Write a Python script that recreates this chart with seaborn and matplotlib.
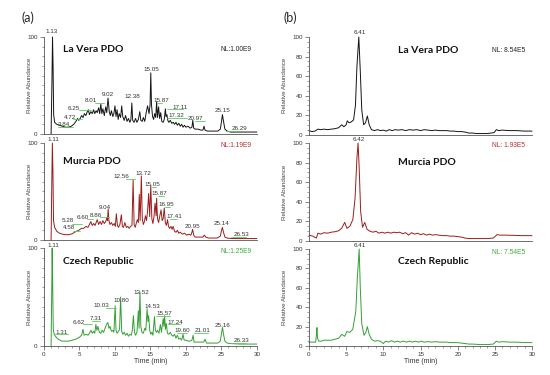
import matplotlib
matplotlib.use("Agg")
import matplotlib.pyplot as plt
import seaborn as sns
import pandas as pd
from matplotlib.ticker import MultipleLocator

# ---------------- data (time in min, relative abundance in %) ----------------
lavera_full = [(1.0,0),(1.12,55),(1.2,100),(1.28,70),(1.36,20),(1.5,12),(1.8,10),(2.2,9),(2.6,8),(3.0,7),(3.4,7),(3.84,8),
    (4.2,10),(4.5,13),(4.72,16),(4.9,14),(5.1,16),(5.3,19),(5.5,17),(5.7,21),(5.9,19),(6.05,22),(6.25,25),(6.4,20),
    (6.6,23),(6.8,21),(7.0,25),(7.15,21),(7.35,24),(7.5,22),(7.7,27),(7.85,21),(8.01,31),(8.15,21),(8.3,26),(8.5,19),
    (8.7,28),(8.85,22),(9.02,37),(9.2,23),(9.35,19),(9.5,24),(9.7,18),(9.85,21),(10.0,29),(10.15,18),(10.3,25),(10.45,15),
    (10.6,21),(10.8,17),(10.95,29),(11.1,18),(11.3,14),(11.5,19),(11.7,13),(11.9,16),(12.1,12),(12.25,15),(12.38,32),
    (12.5,14),(12.7,12),(12.9,16),(13.1,12),(13.3,15),(13.5,23),(13.65,14),(13.85,13),(14.0,17),(14.2,13),(14.4,22),
    (14.6,29),(14.8,21),(14.95,30),(15.05,63),(15.15,30),(15.3,18),(15.45,15),(15.6,21),(15.75,17),(15.87,33),(16.0,17),
    (16.15,28),(16.3,16),(16.45,22),(16.6,13),(16.8,12),(16.95,15),(17.11,26),(17.2,18),(17.32,20),(17.45,14),(17.6,12),
    (17.8,14),(18.0,11),(18.2,12),(18.4,10),(18.6,12),(18.8,9),(19.0,11),(19.2,8),(19.4,10),(19.6,7),(19.8,9),(20.0,7),
    (20.3,8),(20.6,6),(20.85,7),(20.97,14),(21.1,6),(21.3,5),(21.7,5),(22.1,4),(22.4,4),(22.55,8),(22.7,4),(23.0,3),
    (23.5,3),(24.0,3),(24.5,3),(24.85,5),(25.0,12),(25.15,20),(25.3,13),(25.5,5),(25.8,3),(26.29,2),(27.0,2),(28.0,2),
    (29.0,2),(30.0,2)]

murcia_full = [(1.0,0),(1.1,60),(1.18,100),(1.26,70),(1.34,20),(1.5,13),(1.8,9),(2.2,7),(2.6,6),(3.0,5.5),(3.5,5.5),
    (4.0,6.5),(4.3,8),(4.58,9),(4.9,10),(5.28,12),(5.6,12),(5.9,14),(6.2,13),(6.4,16),(6.6,19),(6.8,15),(7.0,17),(7.2,15),
    (7.5,21),(7.7,16),(7.9,19),(8.1,16),(8.3,20),(8.5,17),(8.7,19),(8.86,23),(8.95,20),(9.04,32),(9.15,20),(9.3,16),
    (9.5,18),(9.7,15),(9.9,17),(10.05,14),(10.2,27),(10.35,15),(10.5,13),(10.7,16),(10.9,26),(11.05,14),(11.2,13),
    (11.4,18),(11.6,13),(11.8,14),(12.0,12),(12.2,14),(12.4,15),(12.56,62),(12.7,16),(12.85,13),(13.0,17),(13.15,21),
    (13.3,18),(13.43,47),(13.55,20),(13.72,66),(13.85,22),(14.0,16),(14.15,19),(14.3,25),(14.45,20),(14.6,30),(14.75,48),
    (14.9,24),(15.05,56),(15.2,22),(15.35,17),(15.5,24),(15.65,38),(15.8,25),(15.87,43),(16.0,22),(16.15,18),(16.3,24),
    (16.5,31),(16.65,20),(16.8,22),(16.95,33),(17.1,18),(17.25,15),(17.41,21),(17.55,14),(17.7,12),(17.9,14),(18.05,11),
    (18.2,14),(18.4,9),(18.6,8),(18.8,10),(19.0,7),(19.2,8),(19.5,6),(19.8,7),(20.1,5),(20.4,6),(20.7,5),(20.85,8),
    (20.95,11),(21.1,5),(21.3,3),(21.7,3),(22.1,3),(22.4,3),(22.6,5),(22.8,3),(23.2,2),(23.8,2),(24.4,2),(24.85,4),
    (25.0,9),(25.14,13),(25.3,8),(25.5,3),(25.8,2),(26.53,1.5),(27.5,1.5),(28.5,1.5),(30.0,1.5)]

czech_full = [(1.0,0),(1.1,63),(1.15,100),(1.22,65),(1.3,18),(1.4,13),(1.6,10),(2.0,7),(2.5,5),(3.0,5),(3.5,5),(4.0,6),
    (4.5,7),(5.0,9),(5.3,11),(5.5,17),(5.65,11),(5.9,12),(6.2,11),(6.4,13),(6.62,16),(6.8,13),(7.0,15),(7.15,13),
    (7.31,22),(7.45,16),(7.6,20),(7.8,14),(8.0,13),(8.2,16),(8.4,14),(8.6,18),(8.8,22),(9.0,24),(9.15,18),(9.3,20),
    (9.5,15),(9.7,16),(9.85,14),(10.03,41),(10.15,16),(10.3,13),(10.5,15),(10.65,17),(10.8,50),(10.95,15),(11.1,12),
    (11.3,14),(11.5,11),(11.7,13),(11.9,10),(12.1,12),(12.3,11),(12.45,16),(12.6,31),(12.75,14),(12.9,11),(13.1,14),
    (13.3,36),(13.4,18),(13.52,55),(13.65,20),(13.8,14),(14.0,13),(14.2,18),(14.35,16),(14.53,38),(14.65,25),(14.75,31),
    (14.9,16),(15.05,12),(15.2,14),(15.35,11),(15.57,30),(15.7,16),(15.85,14),(16.0,16),(16.2,13),(16.4,22),(16.55,14),
    (16.8,28),(16.9,20),(17.0,31),(17.12,17),(17.24,23),(17.4,13),(17.6,12),(17.8,14),(18.0,11),(18.2,10),(18.4,12),
    (18.6,8),(18.8,11),(19.0,7),(19.2,8),(19.4,6),(19.6,12),(19.75,6),(20.0,6),(20.3,5),(20.6,5),(20.85,6),(21.01,11),
    (21.15,4),(21.4,4),(21.8,4),(22.2,4),(22.5,4),(22.7,7),(22.9,3),(23.3,3),(24.0,3),(24.5,3),(24.85,5),(25.0,12),
    (25.16,19),(25.3,12),(25.5,5),(25.8,3),(26.33,2.5),(27.5,2),(28.5,2),(30.0,2)]

lavera_sic = [(0.0,4),(0.4,3),(0.8,3.5),(1.2,5.5),(1.6,5),(2.0,5.5),(2.5,5),(3.0,5.5),(3.5,6),(4.0,7),(4.4,10),(4.7,8),
    (5.0,10),(5.15,14),(5.4,12),(5.7,13),(6.0,15),(6.25,30),(6.45,70),(6.7,100),(6.9,65),(7.1,25),(7.35,10),(7.6,12),
    (7.85,19),(8.1,10),(8.4,5),(8.8,4),(9.2,5),(9.6,4),(10.0,4.5),(10.4,3.5),(10.8,5),(11.2,4),(11.6,5),(12.0,4.5),
    (12.5,5),(13.0,4),(13.5,5),(14.0,4.5),(14.5,5),(15.0,4),(15.5,5),(16.0,4.5),(16.5,4),(17.0,4.5),(17.5,4),(18.0,4),
    (18.5,4),(19.0,3.5),(19.5,3.5),(20.0,3),(20.5,3),(21.0,2.5),(21.5,1.5),(22.0,1.5),(22.5,1),(23.0,1),(23.5,1),
    (24.0,1),(24.5,1.5),(24.9,2),(25.2,5),(25.5,4),(26.0,4.5),(27.0,4),(28.0,4),(29.0,3.5),(30.0,3.5)]

murcia_sic = [(0.0,6),(0.5,5),(1.0,3),(1.2,8),(1.6,7),(2.0,8.5),(2.5,8),(3.0,9),(3.5,9.5),(4.0,10.5),(4.4,13),(4.8,19),
    (5.1,13),(5.5,15),(5.9,22),(6.2,44),(6.45,85),(6.6,100),(6.75,75),(6.95,30),(7.2,14),(7.5,19),(7.8,12),(8.2,10),
    (8.6,9),(9.0,10),(9.4,8),(9.8,9),(10.2,8),(10.6,9),(11.0,8),(11.4,9),(11.8,8.5),(12.2,9),(12.6,7.5),(13.0,8.5),
    (13.4,6),(13.8,8.5),(14.2,7),(14.6,8),(15.0,6.5),(15.4,7.5),(15.8,6),(16.2,7),(16.6,6),(17.0,6.5),(17.5,6),(18.0,5.5),
    (18.5,5.5),(19.0,5),(19.5,5),(20.0,4.5),(20.5,4),(21.0,3),(21.5,2.5),(22.0,2.5),(23.0,2.5),(24.0,2.5),(24.8,3),
    (25.3,6.5),(25.7,6),(26.5,6),(27.5,5.8),(28.5,5.5),(30.0,5.5)]

czech_sic = [(0.0,4),(0.5,4),(0.9,4),(1.0,12),(1.07,19),(1.15,8),(1.3,5),(1.7,5),(2.0,6),(2.5,6),(3.0,6),(3.5,7),(4.0,8),
    (4.4,12),(4.8,10),(5.1,15),(5.5,14),(5.9,17.5),(6.3,36),(6.5,70),(6.75,100),(6.9,60),(7.1,23),(7.4,11),(7.65,14),
    (7.85,20),(8.1,12),(8.4,7),(8.8,5),(9.2,5.5),(9.6,5),(10.0,2.5),(10.3,5),(10.7,4),(11.1,5.5),(11.5,4),(11.9,5),
    (12.3,4),(12.7,5),(13.1,4),(13.5,5),(13.9,4),(14.3,5),(14.7,4),(15.1,5),(15.5,4),(16.0,4.5),(16.5,4),(17.0,4.5),
    (17.5,4),(18.0,4),(18.5,4),(19.0,3.5),(19.5,3.5),(20.0,3.5),(20.5,3),(21.0,2.5),(21.5,2),(22.0,2),(23.0,1.5),
    (24.0,1.5),(24.8,2),(25.2,5),(25.5,4),(26.0,4.5),(27.0,4),(28.0,4),(29.0,3.5),(30.0,3.5)]

samples = ["La Vera PDO", "Murcia PDO", "Czech Republic"]
nl_full = ["NL:1.00E9", "NL:1.19E9", "NL:1.25E9"]
nl_sic = ["NL: 8.54E5", "NL: 1.93E5", "NL: 7.54E5"]

# peak labels: (text, x, y) and leader lines (x0, x1, y)
peaks_full = [
    [("1.13",1.1,105.5),("3.84",2.85,9.3),("4.72",3.65,17.2),("6.25",4.2,26.5),("8.01",6.6,34.4),("9.02",9.06,41.2),
     ("12.38",12.5,38.5),("15.05",15.07,66.7),("15.87",16.57,34.4),("17.11",19.25,27.5),("17.32",18.7,18.6),
     ("20.97",21.4,15.8),("25.15",25.2,24),("26.29",27.5,5.8)],
    [("1.11",1.3,104),("4.58",3.57,12.4),("5.28",3.3,19.9),("6.60",5.4,23.4),("8.86",7.3,25.4),("9.04",8.6,33.7),
     ("12.56",10.9,65),("13.72",14.0,69),("15.05",15.2,57),("15.87",16.3,47.8),("16.95",17.2,36.4),("17.41",18.4,24),
     ("20.95",20.9,14.1),("25.14",25.0,17.2),("26.53",27.9,5.5)],
    [("1.11",1.3,103),("1.31",2.5,14.3),("6.62",4.9,24.1),("7.31",7.3,27.6),("10.03",8.1,41.2),("10.80",10.85,46.3),
     ("13.52",13.7,54.8),("14.53",15.3,40.1),("15.57",17.0,33.3),("17.24",18.5,24.5),("19.60",19.5,15.6),
     ("21.01",22.3,15.6),("25.16",25.1,21.4),("26.33",27.8,5.4)],
]
leaders_full = [
    [(2.0,4.1,7.2),(4.1,5.3,15.8),(5.0,6.6,24.7),(7.2,8.4,32.3),(15.96,16.7,31.6),(17.4,19.6,26.1),(17.4,20.1,16.2),
     (21.3,22.7,13.7),(25.7,27.6,3.4)],
    [(4.1,5.1,8.9),(3.9,5.4,16.5),(6.0,6.85,21.6),(7.9,9.1,23.4),(11.5,12.8,63.2),(15.2,15.8,54.6),(16.1,16.9,45.7),
     (17.0,17.8,34),(17.7,18.7,22),(26.4,28.5,3.1)],
    [(1.5,3.4,12.2),(5.5,6.8,22.4),(6.7,7.9,25.9),(8.8,10.2,38.8),(15.8,17.7,31),(17.5,19.2,22.4),(18.7,20.1,13.3),
     (21.1,23.1,13.6),(26.2,28.5,3.4)],
]
peaks_sic = [("6.41",6.77,104.5), ("6.42",6.64,104), ("6.41",6.77,104)]

colors = ["#141414", "#9c1c1c", "#34a034"]
txtcolors = ["#222222", "#b83030", "#3aae3a"]
leader_color = "#55d055"

# ---------------- layout ----------------
sns.set_theme(style="ticks")
plt.rcParams['font.family'] = ['Liberation Sans', 'DejaVu Sans']

fig = plt.figure(figsize=(5.5, 3.75), dpi=100)
left_pos = [[0.080, 0.6427, 0.387, 0.2587], [0.080, 0.36, 0.387, 0.2587], [0.080, 0.0773, 0.387, 0.2613]]
right_pos = [[0.5618, 0.6413, 0.4055, 0.26], [0.5618, 0.3573, 0.4055, 0.2613], [0.5618, 0.0773, 0.4055, 0.2587]]
title_y_left = [86.6, 80.7, 86.7]
title_y_right = [86.6, 80.0, 87.6]
nl_y = [86.6, 97, 96]

full_series = [lavera_full, murcia_full, czech_full]
sic_series = [lavera_sic, murcia_sic, czech_sic]

def style_axis(ax, bottom, major, minor, ylab_x):
    ax.set_xlim(0, 30)
    ax.set_ylim(0, 100)
    for s in ["top", "right"]:
        ax.spines[s].set_visible(False)
    for s in ["left", "bottom"]:
        ax.spines[s].set_color("#555555")
        ax.spines[s].set_linewidth(0.6)
    ax.yaxis.set_major_locator(MultipleLocator(major))
    ax.yaxis.set_minor_locator(MultipleLocator(minor))
    ax.tick_params(axis="y", which="major", length=3, width=0.5, pad=1.5, labelsize=4.5, colors="#555555", labelcolor="#333333")
    ax.tick_params(axis="y", which="minor", length=1.5, width=0.4, colors="#555555")
    ax.set_ylabel("Relative Abundance", fontsize=4.5, color="#444444")
    ax.yaxis.set_label_coords(ylab_x, 0.5)
    if bottom:
        ax.xaxis.set_major_locator(MultipleLocator(5))
        ax.xaxis.set_minor_locator(MultipleLocator(1))
        ax.tick_params(axis="x", which="major", length=3, width=0.5, pad=1.5, labelsize=4.5, colors="#555555", labelcolor="#333333")
        ax.tick_params(axis="x", which="minor", length=1.5, width=0.4, colors="#555555")
        ax.set_xlabel("Time (min)", fontsize=5, color="#333333")
        ax.xaxis.set_label_coords(0.5, -0.125)
    else:
        ax.set_xticks([])
        ax.set_xlabel("")

for i in range(3):
    # ---- (a) full chromatograms
    ax = fig.add_axes(left_pos[i])
    df = pd.DataFrame(full_series[i], columns=["Time (min)", "Relative Abundance"])
    sns.lineplot(data=df, x="Time (min)", y="Relative Abundance", ax=ax, color=colors[i],
                 lw=0.7, estimator=None, sort=False)
    ax.lines[-1].set_clip_on(False)
    style_axis(ax, i == 2, 100, 10, -0.058)
    for (x0, x1, y) in leaders_full[i]:
        ax.plot([x0, x1], [y, y], color=leader_color, lw=0.6, clip_on=False)
    for (s, x, y) in peaks_full[i]:
        ax.text(x, y, s, ha="center", va="center", fontsize=4.5, color="#333333", clip_on=False)
    ax.text(2.7, title_y_left[i], samples[i], ha="left", va="center", fontsize=7.5,
            fontweight="bold", family=["Lato", "DejaVu Sans"], color="#111111")
    ax.text(29.3, nl_y[i], nl_full[i], ha="right", va="center", fontsize=4.8, color=txtcolors[i])

    # ---- (b) extracted chromatograms
    ax = fig.add_axes(right_pos[i])
    df = pd.DataFrame(sic_series[i], columns=["Time (min)", "Relative Abundance"])
    sns.lineplot(data=df, x="Time (min)", y="Relative Abundance", ax=ax, color=colors[i],
                 lw=0.7, estimator=None, sort=False)
    ax.lines[-1].set_clip_on(False)
    style_axis(ax, i == 2, 20, 5, -0.098)
    s, x, y = peaks_sic[i]
    ax.text(x, y, s, ha="center", va="center", fontsize=4.5, color="#333333", clip_on=False)
    ax.text(12.0, title_y_right[i], samples[i], ha="left", va="center", fontsize=7.5,
            fontweight="bold", family=["Lato", "DejaVu Sans"], color="#111111")
    ax.text(29.1, nl_y[i], nl_sic[i], ha="right", va="center", fontsize=4.8, color=txtcolors[i])

fig.text(22 / 550, 1 - 18 / 375, "(a)", ha="left", va="center", fontsize=9, family=["Lato", "DejaVu Sans"])
fig.text(283 / 550, 1 - 18 / 375, "(b)", ha="left", va="center", fontsize=9, family=["Lato", "DejaVu Sans"])

fig.savefig("out.png", dpi=100)
